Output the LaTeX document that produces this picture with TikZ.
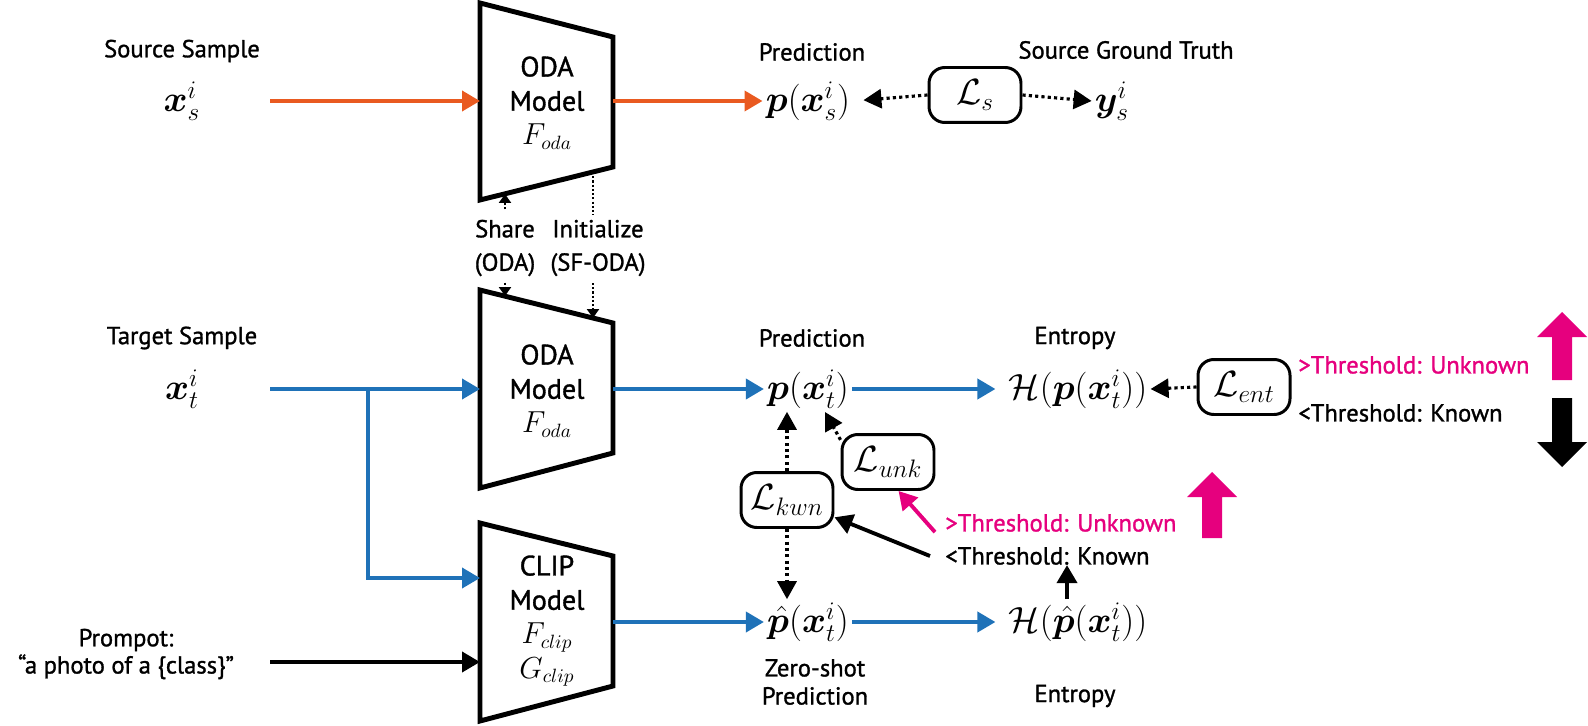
\documentclass[tikz,border=0pt]{standalone}
\usepackage{amsmath,bm}
\usepackage{fontspec}
\setmainfont{PT Sans}[FakeBold=1.2]
\usetikzlibrary{arrows.meta}
\definecolor{srcorange}{RGB}{233,90,32}
\definecolor{tgtblue}{RGB}{31,114,184}
\definecolor{unkpink}{RGB}{230,0,126}
\begin{document}
\begin{tikzpicture}[x=0.02cm, y=-0.02cm,
  lbl/.style={font=\fontsize{14}{17}\selectfont, align=center, inner sep=0pt},
  mth/.style={font=\fontsize{20}{22}\selectfont, inner sep=0.06cm},
  model/.style={font=\fontsize{16}{19.5}\selectfont, align=center, inner sep=0pt},
  loss/.style={draw, line width=1.7pt, rounded corners=9pt, minimum width=1.84cm, minimum height=1.1cm, font=\fontsize{22}{24}\selectfont, inner sep=0pt},
  trap/.style={line width=2.8pt},
  flow/.style={line width=2.2pt, -{Triangle[length=0.36cm,width=0.4cm]}},
  lossarr/.style={line width=1.8pt, dash pattern=on 1.8pt off 1.8pt, -{Triangle[length=0.36cm,width=0.38cm]}},
  tiny/.style={line width=1.6pt, dash pattern=on 1.2pt off 1.2pt},
  tinyarr/.style={tiny, -{Triangle[length=0.18cm,width=0.24cm]}}]
\useasboundingbox (0,0) rectangle (1588,726);
\draw[trap] (480,3) -- (613,37) -- (613,167) -- (480,200) -- cycle;
\draw[trap] (480,290) -- (613,323) -- (613,453) -- (480,488) -- cycle;
\draw[trap] (480,523) -- (613,556) -- (613,686) -- (480,721) -- cycle;
\coordinate (xsOut) at (270,101);
\coordinate (oda1In) at (480,101);
\coordinate (oda1Out) at (613,101);
\coordinate (xtOut) at (270,389);
\coordinate (split) at (368,389);
\coordinate (oda2In) at (480,389);
\coordinate (oda2Out) at (613,389);
\coordinate (clipIn) at (480,578);
\coordinate (prOut) at (270,662);
\coordinate (clipPr) at (480,662);
\coordinate (clipOut) at (613,622);
\coordinate (oda1Sh) at (505,194);
\coordinate (oda2Sh) at (505,296);
\coordinate (oda1Ini) at (593,172);
\coordinate (iniA) at (593,215);
\coordinate (iniB) at (593,283);
\coordinate (oda2Ini) at (593,318);
\coordinate (ptTip) at (825,412);

\node[lbl] (srcLbl) at (182,51) {Source Sample};
\node[mth] (xs) at (182,101) {$\bm{x}_s^i$};
\node[model] (oda1) at (547,103) {ODA\\Model\\$F_{oda}$};
\node[lbl] (predS) at (812,52) {Prediction};
\node[mth] (ps) at (808,101) {$\bm{p}(\bm{x}_s^i)$};
\node[loss] (Ls) at (975,95) {$\mathcal{L}_s$};
\node[mth] (ys) at (1112,101) {$\bm{y}_s^i$};
\node[lbl] (gtLbl) at (1126,50) {Source Ground Truth};
\node[lbl, font=\fontsize{14}{19}\selectfont] (share) at (505,248) {Share\\(ODA)};
\node[lbl, font=\fontsize{14}{19}\selectfont] (init) at (598,248) {Initialize\\(SF-ODA)};

\node[lbl] (tgtLbl) at (182,338) {Target Sample};
\node[mth] (xt) at (182,389) {$\bm{x}_t^i$};
\node[model] (oda2) at (547,391) {ODA\\Model\\$F_{oda}$};
\node[lbl] (predT) at (812,338) {Prediction};
\node[mth] (pt) at (808,389) {$\bm{p}(\bm{x}_t^i)$};
\node[lbl] (entT) at (1075,338) {Entropy};
\node[mth] (Hp) at (1078,389) {$\mathcal{H}(\bm{p}(\bm{x}_t^i))$};
\node[loss] (Lent) at (1244,387) {$\mathcal{L}_{ent}$};
\node[lbl, anchor=west, text=unkpink] (unkR) at (1298,365) {>Threshold: Unknown};
\node[lbl, anchor=west] (knR) at (1298,413) {<Threshold: Known};
\node[loss] (Lunk) at (888,462) {$\mathcal{L}_{unk}$};
\node[loss] (Lkwn) at (787,500) {$\mathcal{L}_{kwn}$};
\node[lbl, anchor=west, text=unkpink] (unkC) at (945,523) {>Threshold: Unknown};
\node[lbl, anchor=west] (knC) at (945,556) {<Threshold: Known};

\node[model] (clip) at (547,621) {CLIP\\Model\\$F_{clip}$\\$G_{clip}$};
\node[lbl, font=\fontsize{14}{15.5}\selectfont] (prompt) at (126,654) {Prompot:\\“a photo of a \{class\}”};
\node[mth] (pz) at (808,622) {$\hat{\bm{p}}(\bm{x}_t^i)$};
\node[lbl, font=\fontsize{14}{16}\selectfont] (zsLbl) at (815,682) {Zero-shot\\Prediction};
\node[mth] (Hpz) at (1078,622) {$\mathcal{H}(\hat{\bm{p}}(\bm{x}_t^i))$};
\node[lbl] (entB) at (1075,696) {Entropy};

\draw[flow, srcorange] (xsOut) -- (oda1In);
\draw[flow, srcorange] (oda1Out) -- (ps.west);
\draw[lossarr, shorten >=0.2cm] (Ls.west) -- (ps.east);
\draw[lossarr] (Ls.east) -- (ys.west);
\draw[tinyarr, shorten <=0.2cm] (share.north) -- (oda1Sh);
\draw[tinyarr, shorten <=0.12cm] (share.south) -- (oda2Sh);
\draw[tiny] (oda1Ini) -- (iniA);
\draw[tinyarr] (iniB) -- (oda2Ini);

\draw[flow, tgtblue] (xtOut) -- (oda2In);
\draw[flow, tgtblue] (split) |- (clipIn);
\draw[flow, tgtblue] (oda2Out) -- (pt.west);
\draw[flow, tgtblue, shorten >=0.2cm] (pt.east) -- (Hp.west);
\draw[lossarr] (Lent.west) -- (Hp.east);
\draw[lossarr] (Lkwn.north) -- (Lkwn.north |- pt.south);
\draw[lossarr] (Lkwn.south) -- (Lkwn.south |- pz.north);
\draw[lossarr] (Lunk.155) -- (ptTip);
\draw[flow, unkpink] ([xshift=-0.2cm]unkC.south west) -- (Lunk.290);
\draw[flow] ([xshift=-0.3cm]knC.west) -- (Lkwn.-20);

\draw[flow] (prOut) -- (clipPr);
\draw[flow, tgtblue] (clipOut) -- (pz.west);
\draw[flow, tgtblue, shorten >=0.2cm] (pz.east) -- (Hpz.west);
\draw[flow] ([xshift=-0.22cm]Hpz.north) -- ([xshift=-0.22cm]Hpz.north |- knC.south);

\fill[unkpink] (1562,312) -- (1587,337) -- (1572,337) -- (1572,380) -- (1552,380) -- (1552,337) -- (1537,337) -- cycle;
\fill (1562,467) -- (1587,442) -- (1572,442) -- (1572,398) -- (1552,398) -- (1552,442) -- (1537,442) -- cycle;
\fill[unkpink] (1212,472) -- (1237,497) -- (1222,497) -- (1222,538) -- (1202,538) -- (1202,497) -- (1187,497) -- cycle;
\end{tikzpicture}
\end{document}
